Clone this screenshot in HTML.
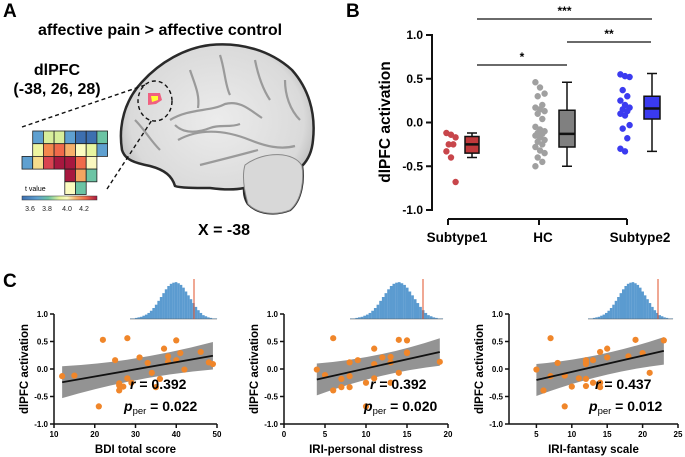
<!DOCTYPE html>
<html><head><meta charset="utf-8"><style>
html,body{margin:0;padding:0;background:#fff;}
svg{display:block;font-family:"Liberation Sans",Arial,sans-serif;}
.b{font-weight:bold;}
</style></head><body>
<svg id="fig" width="685" height="457" viewBox="0 0 685 457" xmlns="http://www.w3.org/2000/svg">
<defs>
<radialGradient id="brainG" cx="0.5" cy="0.45" r="0.6">
<stop offset="0" stop-color="#ececec"/><stop offset="0.75" stop-color="#dadada"/><stop offset="1" stop-color="#a8a8a8"/>
</radialGradient>
<linearGradient id="cbar" x1="0" x2="1">
<stop offset="0" stop-color="#3d6fb0"/><stop offset="0.2" stop-color="#5fa0d0"/><stop offset="0.35" stop-color="#6cc4a4"/><stop offset="0.5" stop-color="#e6f59c"/><stop offset="0.6" stop-color="#fcfcc0"/><stop offset="0.72" stop-color="#f6b06a"/><stop offset="0.85" stop-color="#f06a4a"/><stop offset="1" stop-color="#a8183f"/>
</linearGradient>
</defs>

<text x="3" y="17" class="b" font-size="19">A</text>
<text x="346" y="17" class="b" font-size="19">B</text>
<text x="3" y="287" class="b" font-size="19">C</text>

<g>
<text x="160" y="35" text-anchor="middle" class="b" font-size="16">affective pain &gt; affective control</text>
<text x="57" y="75" text-anchor="middle" class="b" font-size="16">dlPFC</text>
<text x="57" y="94" text-anchor="middle" class="b" font-size="16">(-38, 26, 28)</text>
<path d="M122,150 C118,125 125,100 142,82 C160,62 185,48 210,45 C240,42 270,50 292,70 C308,88 316,112 313,140 C312,152 308,160 302,166 C304,180 302,200 290,210 C275,216 258,214 248,204 C244,198 244,192 244,188 C235,190 225,190 210,188 C195,188 180,188 175,186 C172,176 165,170 150,166 C135,163 125,160 122,150 Z" fill="url(#brainG)" stroke="#2a2a2a" stroke-width="2.5"/>
<path d="M245,165 C265,150 295,152 302,166 C304,180 302,200 290,210 C275,216 258,214 248,204 C244,190 242,175 245,165 Z" fill="#d8d8d8" stroke="#888" stroke-width="1"/>
<g fill="none" stroke="#9a9a9a" stroke-width="2.2">
<path d="M170,120 C190,108 210,112 225,104 C240,100 250,110 262,118"/>
<path d="M178,140 C200,128 225,130 250,140 C265,146 280,150 295,146"/>
<path d="M190,70 C195,85 200,95 198,108"/>
<path d="M220,55 C225,70 225,85 230,95"/>
<path d="M255,60 C258,75 262,88 270,100"/>
<path d="M285,80 C285,95 290,110 300,120"/>
<path d="M135,120 C145,130 150,140 160,150"/>
<path d="M200,165 C220,160 240,155 258,150"/>
<path d="M175,125 C185,135 200,132 210,128 C220,124 230,128 240,124"/>
</g>
<path d="M148,93 L160,93 L162,100 L156,104 L148,105 Z" fill="#f06080"/>
<path d="M151,96 L158,96 L158,100 L152,102 Z" fill="#ffff30"/>
<ellipse cx="155" cy="101" rx="17" ry="20" fill="none" stroke="#111" stroke-width="1.4" stroke-dasharray="4,3"/>
<line x1="22" y1="127" x2="148" y2="84" stroke="#111" stroke-width="1.4" stroke-dasharray="4,3"/>
<line x1="107" y1="189" x2="152" y2="120" stroke="#111" stroke-width="1.4" stroke-dasharray="4,3"/>
<g id="grid"></g>
<text x="25" y="191" font-size="7">t value</text>
<rect x="22" y="196" width="75" height="4" fill="url(#cbar)" stroke="#333" stroke-width="0.5"/>
<g font-size="7" fill="#222" text-anchor="middle">
<text x="30" y="211">3.6</text><text x="47" y="211">3.8</text><text x="67" y="211">4.0</text><text x="84" y="211">4.2</text>
</g>
<text x="224" y="235" text-anchor="middle" class="b" font-size="16">X = -38</text>
</g>

<g id="panelB"></g>
<g id="panelC"></g>
</svg>
<script>
const gridRows = [
 [null,'#5fa0d0','#d8ee9b','#d8ee9b','#5fa0d0','#3d6fb0','#3d6fb0','#6cc4a4'],
 [null,'#eef5a0','#f3874d','#f06a4a','#f6b06a','#fcfcc0','#e8f5a0','#5fa0d0'],
 ['#5fa0d0','#f6dc8c','#d94250','#a8183f','#a8183f','#f06a4a','#fbf8c0',null],
 [null,null,null,null,'#a8183f','#f4a560','#6cc4a4',null],
 [null,null,null,null,'#fbfbc0','#6cc4a4',null,null]
];
const NS='http://www.w3.org/2000/svg';
function mk(tag,attrs,parent){const e=document.createElementNS(NS,tag);for(const k in attrs)e.setAttribute(k,attrs[k]);parent.appendChild(e);return e;}
const grid=document.getElementById('grid');
gridRows.forEach((row,r)=>row.forEach((c,ci)=>{ if(!c) return;
  const el=mk('rect',{x:22+ci*10.7,y:131+r*12.7,width:10.7,height:12.7,fill:c,stroke:'#222','stroke-width':0.8},grid);
  
  
}));

const groups = ['Subtype1','HC','Subtype2'];
const sub1Vals = [-0.12,-0.14,-0.17,-0.25,-0.25,-0.33,-0.40,-0.68];
const hcVals = [0.46,0.40,0.33,0.30,0.20,0.17,0.15,0.13,0.10,0.04,-0.05,-0.08,-0.10,-0.12,-0.13,-0.15,-0.17,-0.20,-0.22,-0.25,-0.28,-0.32,-0.35,-0.40,-0.45,-0.50];
const sub2Vals = [0.55,0.53,0.52,0.37,0.30,0.25,0.20,0.17,0.15,0.13,0.10,0.08,-0.03,-0.07,-0.18,-0.30,-0.33];
const sub1Box = [-0.40,-0.35,-0.25,-0.16,-0.12];
const hcBox = [-0.50,-0.28,-0.13,0.14,0.46];
const sub2Box = [-0.33,0.04,0.16,0.30,0.56];
const bTicks = [1.0,0.5,0.0,-0.5,-1.0];
const sigLabels = ['***','**','*'];

const B = document.getElementById('panelB');
const bY = v => 122.5 - v*87.5;
const dotX = [451,540,625], boxX=[472,567,652];
const dotCol=['#c8464b','#a0a0a0','#3b3bf0'], boxCol=['#c0393b','#808080','#3a3af0'];
let e;
e=mk('line',{x1:432,y1:bY(1)-1,x2:432,y2:bY(-1)+1,stroke:'#111','stroke-width':2},B);
 
bTicks.forEach(t=>{
  e=mk('line',{x1:426,y1:bY(t),x2:432,y2:bY(t),stroke:'#111','stroke-width':2},B);
   
  e=mk('text',{x:423,y:bY(t)+4,'text-anchor':'end','font-size':12,'font-weight':'bold'},B); e.textContent=t.toFixed(1);
   
});
e=mk('text',{transform:'translate(390,122) rotate(-90)','text-anchor':'middle','font-size':15.5,'font-weight':'bold'},B); e.textContent='dlPFC activation';
 
e=mk('line',{x1:448,y1:219,x2:627,y2:219,stroke:'#111','stroke-width':2},B);
 
const catX=[448,539,627];
groups.forEach((g,i)=>{
  e=mk('line',{x1:catX[i],y1:219,x2:catX[i],y2:225,stroke:'#111','stroke-width':2},B);
   
  e=mk('text',{x:[457,543,640][i],y:242,'text-anchor':'middle','font-size':13.5,'font-weight':'bold'},B); e.textContent=g;
   
});
[sub1Vals,hcVals,sub2Vals].forEach((vals,gi)=>{
  vals.forEach((v,i)=>{
    const off=((i*7)%5-2)*2.3;
    e=mk('circle',{cx:dotX[gi]+off,cy:bY(v),r:3.2,fill:dotCol[gi]},B);
     
  });
});
[sub1Box,hcBox,sub2Box].forEach((s,gi)=>{
  const x=boxX[gi],w=gi==0?14:16;
  e=mk('line',{x1:x,y1:bY(s[0]),x2:x,y2:bY(s[4]),stroke:'#111','stroke-width':1.5},B);
   
  [s[0],s[4]].forEach(v=>{e=mk('line',{x1:x-5,y1:bY(v),x2:x+5,y2:bY(v),stroke:'#111','stroke-width':1.5},B);
     });
  e=mk('rect',{x:x-w/2,y:bY(s[3]),width:w,height:bY(s[1])-bY(s[3]),fill:boxCol[gi],stroke:'#111','stroke-width':1.5},B);
   
  e=mk('line',{x1:x-w/2,y1:bY(s[2]),x2:x+w/2,y2:bY(s[2]),stroke:'#111','stroke-width':2.5},B);
   
});
[[477,652,19],[567,651,42],[477,567,65]].forEach((s,i)=>{
  e=mk('line',{x1:s[0],y1:s[2],x2:s[1],y2:s[2],stroke:'#111','stroke-width':1.3},B);
   
  e=mk('text',{x:(s[0]+s[1])/2,y:s[2]-4,'text-anchor':'middle','font-size':12,'font-weight':'bold'},B); e.textContent=sigLabels[i];
   
});

const bdiX = [12,15,21,22,25,26,26,26,27,28,28,29,31,33,34,35,36,37,38,38,40,40,41,42,46,48,49];
const bdiY = [-0.13,-0.12,-0.68,0.53,0.16,-0.26,-0.30,-0.39,-0.32,0.56,-0.17,-0.25,0.21,0.11,-0.07,-0.33,-0.18,0.37,0.23,0.13,0.52,0.16,0.29,-0.01,0.31,0.12,0.09];
const pdX = [4,5,6,6,7,7,8,8,8,9,10,10,11,11,11,12,13,13,13,14,14,15,15,15,19];
const pdY = [-0.01,-0.11,0.56,-0.39,-0.33,-0.18,-0.33,-0.13,0.12,0.16,-0.25,-0.68,0.37,0.09,-0.17,0.21,0.22,0.12,-0.25,0.53,-0.07,0.52,0.29,0.30,0.13];
const fsX = [5,6,7,7,8,9,9,10,11,12,12,12,12,12,13,13,14,14,14,15,15,18,19,20,21,23];
const fsY = [-0.01,-0.39,0.56,-0.13,0.11,-0.12,-0.68,-0.32,-0.17,0.16,0.13,0.09,-0.18,-0.31,0.16,-0.25,0.31,-0.25,-0.33,0.37,0.21,0.23,0.53,0.29,-0.07,0.52];
const fitBDI = [[12,-0.24],[49,0.24]];
const fitPD = [[4,-0.19],[19,0.31]];
const fitFS = [[5,-0.20],[23,0.33]];
const ciHalf = [0.29,0.09,0.25];
const histCounts = [1,1,2,3,4,6,8,11,15,20,26,33,40,47,54,60,64,66,67,65,62,57,50,43,36,29,22,16,11,7,5,3,2,1,1];
const rLabels = ['0.392','0.392','0.437'];
const pLabels = ['0.022','0.020','0.012'];
const xTitles = ['BDI total score','IRI-personal distress','IRI-fantasy scale'];
const xTicksList = [[10,20,30,40,50],[0,5,10,15,20],[5,10,15,20,25]];
const cTicks = [1.0,0.5,0.0,-0.5,-1.0];

const C=document.getElementById('panelC');
const cfgs=[
 {ax:54,x0:54,x1:217,d0:10,d1:50,xs:bdiX,ys:bdiY,fit:fitBDI,h:[130,217,194],tx:[130,175]},
 {ax:284,x0:284,x1:448,d0:0,d1:20,xs:pdX,ys:pdY,fit:fitPD,h:[350,443,423],tx:[370,414]},
 {ax:509,x0:501,x1:678,d0:0,d1:25,xs:fsX,ys:fsY,fit:fitFS,h:[588,673,658],tx:[595,640]}
];
const cY=v=>369-v*55;
cfgs.forEach((c,pi)=>{
  const sx=v=>c.x0+(v-c.d0)/(c.d1-c.d0)*(c.x1-c.x0);
  const hw=(c.h[1]-c.h[0])/histCounts.length;
  histCounts.forEach((n,i)=>{
    e=mk('rect',{x:c.h[0]+i*hw,y:319-n*0.55,width:hw+0.1,height:n*0.55,fill:'#5b9bd0'},C);
     
  });
  e=mk('line',{x1:c.h[0],y1:319,x2:c.h[1],y2:319,stroke:'#555','stroke-width':0.6},C);
   
  e=mk('line',{x1:c.h[2],y1:279,x2:c.h[2],y2:319,stroke:'#e0502a','stroke-width':1},C);
   
  const [p0,p1]=c.fit, mid=[(p0[0]+p1[0])/2,(p0[1]+p1[1])/2];
  const pts=[[p0[0],p0[1]+ciHalf[0]],[mid[0],mid[1]+ciHalf[1]],[p1[0],p1[1]+ciHalf[2]],[p1[0],p1[1]-ciHalf[2]],[mid[0],mid[1]-ciHalf[1]],[p0[0],p0[1]-ciHalf[0]]];
  const d='M'+sx(pts[0][0])+','+cY(pts[0][1])+' Q'+sx(mid[0])+','+(cY(pts[1][1])-2)+' '+sx(pts[2][0])+','+cY(pts[2][1])+' L'+sx(pts[3][0])+','+cY(pts[3][1])+' Q'+sx(mid[0])+','+(cY(pts[4][1])+2)+' '+sx(pts[5][0])+','+cY(pts[5][1])+'Z';
  e=mk('path',{d:d,fill:'#939393'},C);
   
  e=mk('line',{x1:c.ax,y1:cY(1),x2:c.ax,y2:cY(-1),stroke:'#111','stroke-width':1.5},C);
   
  e=mk('line',{x1:c.ax,y1:cY(-1),x2:c.x1,y2:cY(-1),stroke:'#111','stroke-width':1.5},C);
   
  cTicks.forEach(t=>{
    e=mk('line',{x1:c.ax-4,y1:cY(t),x2:c.ax,y2:cY(t),stroke:'#111','stroke-width':1.5},C);
     
    e=mk('text',{x:c.ax-6,y:cY(t)+3,'text-anchor':'end','font-size':8,'font-weight':'bold'},C); e.textContent=t.toFixed(1);
     
  });
  xTicksList[pi].forEach(t=>{
    e=mk('line',{x1:sx(t),y1:cY(-1),x2:sx(t),y2:cY(-1)+4,stroke:'#111','stroke-width':1.5},C);
     
    e=mk('text',{x:sx(t),y:437,'text-anchor':'middle','font-size':8,'font-weight':'bold'},C); e.textContent=t;
     
  });
  e=mk('text',{x:(c.ax+c.x1)/2,y:453,'text-anchor':'middle','font-size':11.5,'font-weight':'bold'},C); e.textContent=xTitles[pi];
   
  e=mk('text',{transform:'translate('+(c.ax-26)+',369) rotate(-90)','text-anchor':'middle','font-size':11.5,'font-weight':'bold'},C); e.textContent='dlPFC activation';
   
  c.xs.forEach((xv,i)=>{
    e=mk('circle',{cx:sx(xv),cy:cY(c.ys[i]),r:3.1,fill:'#f0862a'},C);
     
  });
  e=mk('line',{x1:sx(p0[0]),y1:cY(p0[1]),x2:sx(p1[0]),y2:cY(p1[1]),stroke:'#111','stroke-width':1.8},C);
   
  e=mk('text',{x:c.tx[0],y:389,'font-size':14,'font-weight':'bold'},C);
  e.innerHTML='<tspan font-style="italic">r</tspan> = '+rLabels[pi];
   
  e=mk('text',{x:c.tx[0]-6,y:411,'font-size':14,'font-weight':'bold'},C);
  e.innerHTML='<tspan font-style="italic">p</tspan><tspan font-size="9.5" dy="3" font-weight="normal">per</tspan><tspan dy="-3"> = '+pLabels[pi]+'</tspan>';
   
});
</script>
</body></html>
